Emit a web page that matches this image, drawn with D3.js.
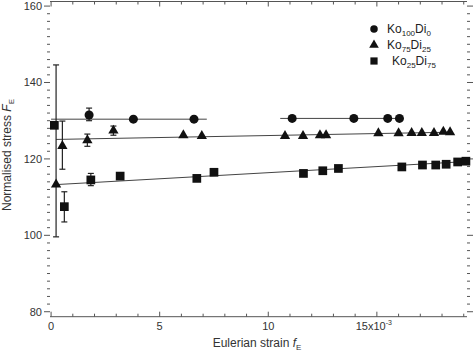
<!DOCTYPE html>
<html>
<head>
<meta charset="utf-8">
<script src="https://cdn.jsdelivr.net/npm/d3@7"></script>
<style>
  body { margin: 0; background: #fff; }
  svg { font-family: "Liberation Sans", Arial, sans-serif; }
</style>
</head>
<body>
<div id="chart"></div>
<script>
// Data (strain in units of 1e-3)
var circleX = [1.75, 3.79, 6.58, 11.1, 13.94, 15.5, 16.04];
var circleY = [131.5, 130.4, 130.4, 130.6, 130.6, 130.6, 130.6];

var triX = [0.23, 0.52, 1.67, 2.87, 6.09, 6.94, 10.77, 11.6, 12.38, 12.66, 15.07, 16.0, 16.6, 17.07, 17.63, 18.06, 18.37];
var triY = [113.3, 123.4, 124.9, 127.4, 126.2, 126.0, 126.0, 126.0, 126.2, 126.2, 126.7, 126.7, 126.8, 126.8, 126.8, 127.1, 127.0];

var squareX = [0.15, 0.61, 1.83, 3.18, 6.71, 7.5, 11.62, 12.51, 13.23, 16.15, 17.1, 17.71, 18.19, 18.72, 19.1];
var squareY = [128.8, 107.5, 114.5, 115.5, 114.9, 116.5, 116.2, 116.9, 117.5, 117.9, 118.4, 118.4, 118.6, 119.2, 119.4];

// error bars
var errX  = [0.23, 0.52, 0.61, 1.67, 1.75, 1.83, 2.87];
var errLo = [99.6, 117.3, 103.5, 123.3, 130.0, 113.0, 126.2];
var errHi = [144.6, 129.9, 111.4, 126.5, 133.3, 116.2, 128.6];

// fitted lines
var circleFit = [[[0, 130.4], [7.17, 130.4]], [[10.55, 130.6], [16.2, 130.6]]];
var triFit = [[[0.23, 125.1], [18.5, 127.0]]];
var squareFit = [[[0.3, 113.3], [19.1, 119.3]]];

var xMajor = [0, 5, 10, 15];
var xLabels = ["0", "5", "10", "15x10"];
var yMajor = [80, 100, 120, 140, 160];

var width = 474, height = 351;
var svg = d3.select("#chart").append("svg")
    .attr("width", width)
    .attr("height", height);

var x = d3.scaleLinear().domain([-0.05, 19.15]).range([50, 467]);
var y = d3.scaleLinear().domain([78.7, 161.2]).range([316.7, 1.5]);

var axisCol = "#555", textCol = "#333";

// top and bottom frame lines
svg.append("line").attr("x1", x.range()[0]).attr("x2", x.range()[1])
    .attr("y1", y.range()[0]).attr("y2", y.range()[0])
    .attr("stroke", axisCol).attr("stroke-width", 1);
svg.append("line").attr("x1", x.range()[0]).attr("x2", x.range()[1])
    .attr("y1", y.range()[1]).attr("y2", y.range()[1])
    .attr("stroke", axisCol).attr("stroke-width", 1);

// x ticks (inward, top and bottom)
var xMinor = d3.range(0, 20, 1);
xMinor.forEach(function(v) {
    var len = (v % 5 === 0) ? 5 : 3;
    svg.append("line").attr("x1", x(v)).attr("x2", x(v))
        .attr("y1", y.range()[0]).attr("y2", y.range()[0] - len)
        .attr("stroke", axisCol);
    svg.append("line").attr("x1", x(v)).attr("x2", x(v))
        .attr("y1", y.range()[1]).attr("y2", y.range()[1] + len)
        .attr("stroke", axisCol);
});
xMajor.forEach(function(v, i) {
    var t = svg.append("text")
        .attr("x", x(v) + (i === 3 ? -3 : 0))
        .attr("y", 330)
        .attr("text-anchor", "middle")
        .attr("font-size", 11)
        .attr("fill", textCol)
        .text(xLabels[i]);
    if (i === 3) {
        t.append("tspan").attr("font-size", 7).attr("dy", -5).text("-3");
    }
});

// y ticks (outward, left and right)
var yMinor = d3.range(80, 161, 2);
yMinor.forEach(function(v) {
    var len = (v % 20 === 0) ? 6 : 3;
    svg.append("line").attr("x1", x.range()[0]).attr("x2", x.range()[0] - len)
        .attr("y1", y(v)).attr("y2", y(v)).attr("stroke", axisCol);
    svg.append("line").attr("x1", x.range()[1]).attr("x2", x.range()[1] + len)
        .attr("y1", y(v)).attr("y2", y(v)).attr("stroke", axisCol);
});
yMajor.forEach(function(v) {
    svg.append("text")
        .attr("x", 42).attr("y", y(v) + 4)
        .attr("text-anchor", "end")
        .attr("font-size", 11)
        .attr("fill", textCol)
        .text(v);
});

// axis titles
var xt = svg.append("text")
    .attr("x", 257).attr("y", 347)
    .attr("text-anchor", "middle")
    .attr("font-size", 12)
    .attr("fill", textCol)
    .text("Eulerian strain ");
xt.append("tspan").attr("font-style", "italic").text("f");
xt.append("tspan").attr("font-size", 8).attr("dy", 3).text("E");

var yt = svg.append("text")
    .attr("transform", "translate(11,155) rotate(-90)")
    .attr("text-anchor", "middle")
    .attr("font-size", 12)
    .attr("fill", textCol)
    .text("Normalised stress ");
yt.append("tspan").attr("font-style", "italic").text("F");
yt.append("tspan").attr("font-size", 8).attr("dy", 3).text("E");

// fit lines
var line = d3.line().x(function(d) { return x(d[0]); }).y(function(d) { return y(d[1]); });
[circleFit, triFit, squareFit].forEach(function(segs) {
    segs.forEach(function(s) {
        svg.append("path").attr("d", line(s))
            .attr("fill", "none").attr("stroke", "#444").attr("stroke-width", 1);
    });
});

// error bars
errX.forEach(function(v, i) {
    svg.append("line").attr("x1", x(v)).attr("x2", x(v))
        .attr("y1", y(errLo[i])).attr("y2", y(errHi[i]))
        .attr("stroke", "#222").attr("stroke-width", 1.2);
    [errLo[i], errHi[i]].forEach(function(e) {
        svg.append("line").attr("x1", x(v) - 3).attr("x2", x(v) + 3)
            .attr("y1", y(e)).attr("y2", y(e))
            .attr("stroke", "#222").attr("stroke-width", 1.2);
    });
});

// markers
var markCol = "#111";
var sym = {
    circle: d3.symbol().type(d3.symbolCircle).size(64),
    tri: d3.symbol().type(d3.symbolTriangle).size(46),
    square: d3.symbol().type(d3.symbolSquare).size(76)
};
function drawSeries(xs, ys, s) {
    svg.append("g").selectAll("path")
        .data(xs)
        .enter().append("path")
        .attr("d", sym[s])
        .attr("transform", function(d, i) { return "translate(" + x(d) + "," + y(ys[i]) + ")"; })
        .attr("fill", markCol);
}
drawSeries(circleX, circleY, "circle");
drawSeries(triX, triY, "tri");
drawSeries(squareX, squareY, "square");

// legend
var legend = [
    {s: "circle", a: "100", b: "0", dx: 0, size: 44},
    {s: "tri", a: "75", b: "25", dx: 0, size: 40},
    {s: "square", a: "25", b: "75", dx: 5, size: 52}
];
legend.forEach(function(L, i) {
    var ly = 29 + i * 16;
    svg.append("path").attr("d", d3.symbol().type(sym[L.s].type()).size(L.size)())
        .attr("transform", "translate(374," + ly + ")")
        .attr("fill", markCol);
    var t = svg.append("text").attr("x", 387 + L.dx).attr("y", ly + 4)
        .attr("font-size", 12).attr("fill", "#222").text("Ko");
    t.append("tspan").attr("font-size", 8).attr("dy", 3).text(L.a);
    t.append("tspan").attr("dy", -3).text("Di");
    t.append("tspan").attr("font-size", 8).attr("dy", 3).text(L.b);
});
</script>
</body>
</html>
